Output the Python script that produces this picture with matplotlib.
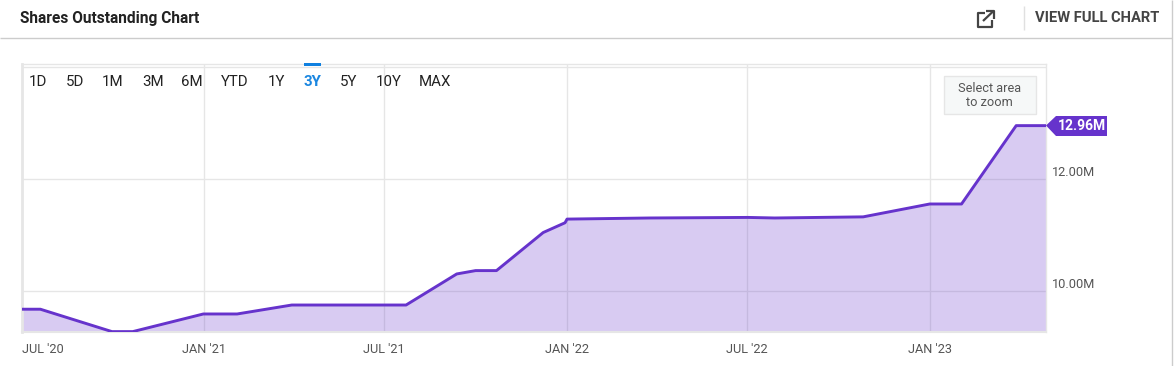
#!/usr/bin/env python3

import matplotlib
matplotlib.use("Agg")
import matplotlib.dates as mdates
import matplotlib.pyplot as plt
import pandas as pd
from matplotlib.lines import Line2D
from matplotlib.patches import Polygon, Rectangle

W, H = 1175, 366

PURPLE = "#6633cc"
GRID = "#e6e6e6"
DARK = "#222222"
GREY = "#555555"
FONT = ["Roboto", "DejaVu Sans"]

dates = [
    "2020-07-01", "2020-07-20", "2020-09-30", "2020-10-21", "2020-12-31",
    "2021-02-03", "2021-03-30", "2021-07-23", "2021-09-12", "2021-10-01",
    "2021-10-22", "2021-12-08", "2021-12-30", "2022-01-01", "2022-03-25",
    "2022-07-02", "2022-07-29", "2022-10-26", "2023-01-01", "2023-02-02",
    "2023-03-29", "2023-04-28",
]
shares = [
    9.68, 9.68, 9.28, 9.28, 9.595,
    9.595, 9.755, 9.755, 10.31, 10.37,
    10.37, 11.05, 11.225, 11.29, 11.31,
    11.32, 11.31, 11.33, 11.56, 11.56,
    12.96, 12.96,
]

x_ticks = ["2020-07-01", "2021-01-01", "2021-07-01", "2022-01-01", "2022-07-01", "2023-01-01"]
x_labels = ["JUL '20", "JAN '21", "JUL '21", "JAN '22", "JUL '22", "JAN '23"]
y_ticks = [10, 12, 14]
y_labels = ["10.00M", "12.00M", ""]
ranges = ["1D", "5D", "1M", "3M", "6M", "YTD", "1Y", "3Y", "5Y", "10Y", "MAX"]
range_x = [38, 75, 113, 153, 192, 235, 276, 312, 349, 389, 435]
last_label = "12.96M"


def px(x, y):
    return x / W, 1 - y / H


def add_line(fig, xs, ys, color, lw):
    fig.add_artist(Line2D([x / W for x in xs], [1 - y / H for y in ys],
                          color=color, lw=lw, solid_capstyle="butt"))


def add_text(fig, x, y, s, **kw):
    kw.setdefault("family", FONT)
    fig.text(*px(x, y), s, va="center", **kw)


def main():
    d = pd.to_datetime(dates)
    fig = plt.figure(figsize=(W / 100, H / 100), dpi=100, facecolor="white")

    left, right, top, bottom = 21.5, 1046, 63.5, 332
    ax = fig.add_axes([left / W, 1 - bottom / H, (right - left) / W, (bottom - top) / H])

    ax.fill_between(d, shares, 0, color=PURPLE, alpha=0.25, lw=0, zorder=2)
    ax.plot(d, shares, color=PURPLE, lw=2.1, zorder=3, solid_joinstyle="round")

    ax.set_xlim(pd.Timestamp("2020-07-01"), pd.Timestamp("2023-04-28"))
    ax.set_ylim(9.273, 14.07)

    ax.set_xticks(mdates.date2num(pd.to_datetime(x_ticks)))
    ax.set_xticklabels(x_labels, family=FONT, fontsize=9.2, color=GREY)
    ax.set_yticks(y_ticks)
    ax.set_yticklabels(y_labels, family=FONT, fontsize=9.2, color=GREY)
    ax.yaxis.tick_right()
    ax.tick_params(axis="both", length=0)
    ax.tick_params(axis="x", pad=8)
    ax.tick_params(axis="y", pad=4)
    ax.get_xticklabels()[0].set_ha("left")
    for lab in ax.get_yticklabels():
        lab.set_va("bottom")

    ax.grid(True, color=GRID, lw=1)
    ax.set_axisbelow(True)
    for name, spine in ax.spines.items():
        spine.set_color(GRID)
        spine.set_linewidth(1)
    ax.spines["left"].set_linewidth(2)
    ax.spines["bottom"].set_linewidth(1.5)

    # header
    add_line(fig, [0, 1172], [37.5, 37.5], "#cccccc", 1)
    add_line(fig, [1172, 1172], [0, 366], "#cccccc", 1)
    add_line(fig, [1023.5, 1023.5], [6, 30], "#e0e0e0", 1)
    add_text(fig, 20, 19, "Shares Outstanding Chart", fontsize=11.2, fontweight="bold", color=DARK)
    add_text(fig, 1035, 18, "VIEW FULL CHART", fontsize=10.6, fontweight="bold", color="#444444")

    # external link icon
    add_line(fig, [985, 977.5, 977.5, 991.5, 991.5], [13, 13, 26.5, 26.5, 20], "#444444", 1.6)
    add_line(fig, [983, 993.5], [21, 11], "#444444", 1.6)
    add_line(fig, [986, 993.5, 993.5], [11, 11, 18.5], "#444444", 1.6)

    # range selector
    for s, x in zip(ranges, range_x):
        selected = s == "3Y"
        add_text(fig, x, 81.5, s, ha="center", fontsize=10.8,
                 fontweight="bold" if selected else "normal",
                 color="#1a86e0" if selected else DARK)
    fig.add_artist(Rectangle(px(304, 66), 17 / W, 3 / H, transform=fig.transFigure,
                             facecolor="#0f80e0", edgecolor="none"))

    # zoom hint
    fig.add_artist(Rectangle(px(943.5, 114.5), 92 / W, 38 / H, transform=fig.transFigure,
                             facecolor="#f6f8f8", edgecolor=GRID, lw=1))
    add_text(fig, 989.5, 88, "Select area", ha="center", fontsize=9.2, color=GREY)
    add_text(fig, 989.5, 103, "to zoom", ha="center", fontsize=9.2, color=GREY)

    # last value tag
    tag = [px(1046, 125.5), px(1056, 116), px(1107, 116), px(1107, 136), px(1056, 136)]
    fig.add_artist(Polygon(tag, closed=True, transform=fig.transFigure,
                           facecolor=PURPLE, edgecolor="none"))
    add_text(fig, 1081.5, 126, last_label, ha="center", fontsize=10, fontweight="bold", color="white")

    fig.savefig("out.png", dpi=100, facecolor="white")
    plt.close(fig)


if __name__ == "__main__":
    main()
